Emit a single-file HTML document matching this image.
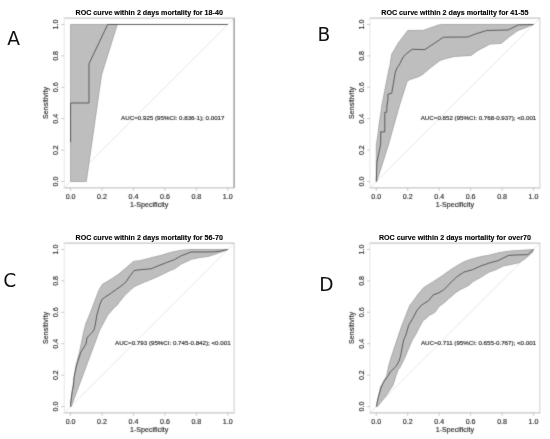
<!DOCTYPE html>
<html><head><meta charset="utf-8"><title>ROC curves</title>
<style>
html,body{margin:0;padding:0;background:#fff;}
svg{display:block;}
.t{font-family:"Liberation Sans",Arial,sans-serif;font-size:7.1px;fill:#2a2a2a;stroke:#2a2a2a;stroke-width:0.15px;text-anchor:middle;}
.ti{font-family:"Liberation Sans",Arial,sans-serif;font-size:7.14px;font-weight:bold;fill:#000;stroke:#000;stroke-width:0.12px;text-anchor:middle;}
.au{font-family:"Liberation Sans",Arial,sans-serif;font-size:6.2px;fill:#1e1e1e;stroke:#1e1e1e;stroke-width:0.15px;text-anchor:middle;}
.lt{font-family:"DejaVu Sans","Liberation Sans",sans-serif;font-size:18.6px;fill:#111;}
</style></head>
<body>
<svg width="550" height="439" viewBox="0 0 550 439">
<defs><filter id="soft" x="0" y="0" width="550" height="439" filterUnits="userSpaceOnUse" color-interpolation-filters="sRGB"><feConvolveMatrix order="3" kernelMatrix="0.02 0.08 0.02 0.08 0.6 0.08 0.02 0.08 0.02" edgeMode="duplicate"/></filter></defs>
<g filter="url(#soft)">
<rect width="550" height="439" fill="#fff"/>
<line x1="64.3" y1="187.8" x2="234.1" y2="18.2" stroke="#e4e4e4" stroke-width="0.9"/>
<polygon points="70.59,181.52 70.59,24.48 117.28,24.48 101.56,74.73 86.31,181.52" fill="#bebebe" stroke="#a0a0a0" stroke-width="0.8" stroke-linejoin="round"/>
<polyline points="70.59,142.26 70.59,103 88.98,103 88.98,63.74 107.69,24.48 227.81,24.48" fill="none" stroke="#555555" stroke-width="0.95" stroke-linejoin="round"/>
<path d="M63.7 18.2H234.7M63.7 187.8H234.7" stroke="#c6c6c6" stroke-width="1.2" fill="none"/>
<path d="M64.3 18.2V187.8" stroke="#ebebeb" stroke-width="1.2" fill="none"/>
<path d="M234.1 18.2V187.8" stroke="#888888" stroke-width="1.2" fill="none"/>
<path d="M70.59 187.8v3 M64.3 181.52h-3 M102.03 187.8v3 M64.3 150.11h-3 M133.48 187.8v3 M64.3 118.7h-3 M164.92 187.8v3 M64.3 87.3h-3 M196.37 187.8v3 M64.3 55.89h-3 M227.81 187.8v3 M64.3 24.48h-3" stroke="#bdbdbd" stroke-width="0.8" fill="none"/>
<text x="70.59" y="198.7" class="t">0.0</text>
<text x="0" y="0" class="t" transform="translate(58 181.52) rotate(-90)">0.0</text>
<text x="102.03" y="198.7" class="t">0.2</text>
<text x="0" y="0" class="t" transform="translate(58 150.11) rotate(-90)">0.2</text>
<text x="133.48" y="198.7" class="t">0.4</text>
<text x="0" y="0" class="t" transform="translate(58 118.7) rotate(-90)">0.4</text>
<text x="164.92" y="198.7" class="t">0.6</text>
<text x="0" y="0" class="t" transform="translate(58 87.3) rotate(-90)">0.6</text>
<text x="196.37" y="198.7" class="t">0.8</text>
<text x="0" y="0" class="t" transform="translate(58 55.89) rotate(-90)">0.8</text>
<text x="227.81" y="198.7" class="t">1.0</text>
<text x="0" y="0" class="t" transform="translate(58 24.48) rotate(-90)">1.0</text>
<text x="149.2" y="207.3" class="t">1-Specificity</text>
<text x="0" y="0" class="t" transform="translate(48.3 103) rotate(-90)">Sensitivity</text>
<text x="172.8" y="120.2" class="au">AUC=0.925 (95%CI: 0.836-1); 0.0017</text>
<line x1="370" y1="187.8" x2="539.8" y2="18.2" stroke="#e4e4e4" stroke-width="0.9"/>
<polygon points="376.29,181.52 376.29,144.93 377.86,135.04 379.28,123.1 380.69,113.99 381.95,105.04 386.19,83.21 388.87,69.71 389.97,65.15 391.7,54.32 398.61,42.54 407.73,30.61 423.61,30.29 438.55,24.95 442.32,24.48 533.51,24.48 524.08,28.25 517.79,30.61 509.3,36.73 501.28,43.33 489.8,44.11 486.97,45.68 477.85,50.39 471.09,55.42 453.96,56.52 444.84,58.87 439.96,60.44 430.37,67.82 422.2,74.73 417.95,76.93 409.78,79.6 407.1,81.49 399.56,105.04 388.39,144.93 376.76,181.52" fill="#bebebe" stroke="#a0a0a0" stroke-width="0.8" stroke-linejoin="round"/>
<polyline points="376.29,181.52 376.92,162.67 378.18,156.39 379.43,150.11 380.69,143.83 380.69,131.89 384.78,131.89 384.78,112.27 386.67,112.27 386.98,105.04 387.92,99.86 387.92,94.21 391.7,93.26 393.43,83.21 395.31,72.38 397.04,67.82 399.09,65.15 403.17,56.99 406.79,53.38 412.29,49.29 424.87,49.61 443.42,37.2 467.63,37.04 475.65,33.9 486.97,30.45 508.04,29.98 518.26,24.95 533.51,24.48" fill="none" stroke="#555555" stroke-width="0.95" stroke-linejoin="round"/>
<path d="M369.4 18.2H540.4M369.4 187.8H540.4" stroke="#c6c6c6" stroke-width="1.2" fill="none"/>
<path d="M370 18.2V187.8" stroke="#ebebeb" stroke-width="1.2" fill="none"/>
<path d="M539.8 18.2V187.8" stroke="#d6d6d6" stroke-width="1.2" fill="none"/>
<path d="M376.29 187.8v3 M370 181.52h-3 M407.73 187.8v3 M370 150.11h-3 M439.18 187.8v3 M370 118.7h-3 M470.62 187.8v3 M370 87.3h-3 M502.07 187.8v3 M370 55.89h-3 M533.51 187.8v3 M370 24.48h-3" stroke="#bdbdbd" stroke-width="0.8" fill="none"/>
<text x="376.29" y="198.7" class="t">0.0</text>
<text x="0" y="0" class="t" transform="translate(363.7 181.52) rotate(-90)">0.0</text>
<text x="407.73" y="198.7" class="t">0.2</text>
<text x="0" y="0" class="t" transform="translate(363.7 150.11) rotate(-90)">0.2</text>
<text x="439.18" y="198.7" class="t">0.4</text>
<text x="0" y="0" class="t" transform="translate(363.7 118.7) rotate(-90)">0.4</text>
<text x="470.62" y="198.7" class="t">0.6</text>
<text x="0" y="0" class="t" transform="translate(363.7 87.3) rotate(-90)">0.6</text>
<text x="502.07" y="198.7" class="t">0.8</text>
<text x="0" y="0" class="t" transform="translate(363.7 55.89) rotate(-90)">0.8</text>
<text x="533.51" y="198.7" class="t">1.0</text>
<text x="0" y="0" class="t" transform="translate(363.7 24.48) rotate(-90)">1.0</text>
<text x="454.9" y="207.3" class="t">1-Specificity</text>
<text x="0" y="0" class="t" transform="translate(354 103) rotate(-90)">Sensitivity</text>
<text x="478.5" y="120.2" class="au">AUC=0.852 (95%CI: 0.768-0.937); &lt;0.001</text>
<line x1="64.3" y1="412.8" x2="234.1" y2="243.2" stroke="#e4e4e4" stroke-width="0.9"/>
<polygon points="70.59,406.52 70.59,402.75 73.1,384.53 75.78,366.32 79.55,351.87 84.11,330.04 86,323.29 90.56,312.3 94.96,300.52 98.73,290.63 102.5,284.19 108.95,280.57 118.07,274.61 126.09,267.85 133.48,261.42 139.77,260.63 143.85,259.69 152.82,257.33 161.94,255.13 170.27,252.47 181.27,250.27 191.02,249.48 227.81,249.48 225.14,250.58 216.49,253.72 207.84,256.55 200.14,257.49 191.49,259.22 181.27,264.09 174.67,268.8 171.05,270.05 161.94,274.61 152.82,278.69 143.85,282.3 134.74,286.39 131.12,289.21 124.67,295.49 119.33,301.93 117.28,305.07 113.83,307.9 107.69,315.12 102.35,325.02 99.67,330.04 71.22,406.52" fill="#bebebe" stroke="#a0a0a0" stroke-width="0.8" stroke-linejoin="round"/>
<polyline points="70.59,406.52 70.59,404.48 72.16,391.76 73.58,385 74.05,377.15 76.25,366.95 77.35,362.86 80.97,351.87 85.84,344.33 87.25,337.42 91.34,333.34 94.02,329.88 95.43,324.07 96.84,315.12 99.67,305.07 101.88,299.58 104.71,297.38 110.21,293.77 116.5,289.21 122.94,284.66 126.09,281.83 129.86,276.02 134.26,270.52 139.77,269.74 151.09,268.8 157.53,266.13 166.65,262.52 174.67,259.53 181.27,255.76 191.02,251.99 202.97,251.99 213.98,251.84 220.89,251.05 227.81,249.48" fill="none" stroke="#555555" stroke-width="0.95" stroke-linejoin="round"/>
<path d="M63.7 243.2H234.7M63.7 412.8H234.7" stroke="#c6c6c6" stroke-width="1.2" fill="none"/>
<path d="M64.3 243.2V412.8" stroke="#ebebeb" stroke-width="1.2" fill="none"/>
<path d="M234.1 243.2V412.8" stroke="#d6d6d6" stroke-width="1.2" fill="none"/>
<path d="M70.59 412.8v3 M64.3 406.52h-3 M102.03 412.8v3 M64.3 375.11h-3 M133.48 412.8v3 M64.3 343.7h-3 M164.92 412.8v3 M64.3 312.3h-3 M196.37 412.8v3 M64.3 280.89h-3 M227.81 412.8v3 M64.3 249.48h-3" stroke="#bdbdbd" stroke-width="0.8" fill="none"/>
<text x="70.59" y="423.7" class="t">0.0</text>
<text x="0" y="0" class="t" transform="translate(58 406.52) rotate(-90)">0.0</text>
<text x="102.03" y="423.7" class="t">0.2</text>
<text x="0" y="0" class="t" transform="translate(58 375.11) rotate(-90)">0.2</text>
<text x="133.48" y="423.7" class="t">0.4</text>
<text x="0" y="0" class="t" transform="translate(58 343.7) rotate(-90)">0.4</text>
<text x="164.92" y="423.7" class="t">0.6</text>
<text x="0" y="0" class="t" transform="translate(58 312.3) rotate(-90)">0.6</text>
<text x="196.37" y="423.7" class="t">0.8</text>
<text x="0" y="0" class="t" transform="translate(58 280.89) rotate(-90)">0.8</text>
<text x="227.81" y="423.7" class="t">1.0</text>
<text x="0" y="0" class="t" transform="translate(58 249.48) rotate(-90)">1.0</text>
<text x="149.2" y="432.3" class="t">1-Specificity</text>
<text x="0" y="0" class="t" transform="translate(48.3 328) rotate(-90)">Sensitivity</text>
<text x="172.8" y="345.2" class="au">AUC=0.793 (95%CI: 0.745-0.842); &lt;0.001</text>
<line x1="370" y1="412.8" x2="539.8" y2="243.2" stroke="#e4e4e4" stroke-width="0.9"/>
<polygon points="376.29,406.52 377.55,400.87 379.28,392.7 380.69,386.26 381.95,384.53 383.84,380.76 386.51,376.21 388.87,365.06 392.01,354.7 395.31,344.96 398.3,335.85 402.07,325.02 407.1,312.3 409.93,305.07 413.08,301.3 417.64,294.87 423.61,287.64 433.2,281.67 442.17,275.86 449.87,270.21 455.37,266.76 463.55,261.89 472.67,258.75 481.79,256.39 487.92,255.45 499.24,252.62 510.71,250.89 522.03,250.27 533.51,249.48 532.25,252.62 525.49,258.43 518.73,262.83 510.71,264.56 503.8,265.81 495.78,269.74 489.8,271.78 486.34,273.67 480.84,277.28 472.67,281.83 469.84,284.66 463.55,288.11 460.87,289.21 455.37,292.82 451.28,296.59 448.14,299.11 445,302.09 439.02,306.49 434.93,312.3 431.32,314.49 429.9,314.65 426.91,317.79 423.14,320.46 419.05,327.84 415.44,335.07 412.29,339.93 404.59,358.15 400.03,367.26 397.99,369.93 396.1,375.43 392.95,385.32 385.72,396.31 377.55,406.52" fill="#bebebe" stroke="#a0a0a0" stroke-width="0.8" stroke-linejoin="round"/>
<polyline points="376.29,406.52 376.6,405.26 378.33,397.1 381.01,387.99 383.36,382.65 385.72,379.04 388.39,375.43 390.44,371.81 395.16,367.26 396.88,365.06 399.09,360.98 400.5,356.27 401.92,349.04 403.65,339.93 405.85,335.07 408.68,325.17 413.08,317.95 416.85,310.57 421.57,305.07 425.03,302.87 428.64,300.68 433.2,294.87 438.55,292.98 442.17,290.78 443.58,290 447.67,285.76 451.28,281.99 456.31,277.28 463.55,272.25 472.67,269.58 480.84,265.97 489.8,262.83 498.14,260.63 508.36,255.45 516.37,254.98 527.69,254.66 533.51,249.48" fill="none" stroke="#555555" stroke-width="0.95" stroke-linejoin="round"/>
<path d="M369.4 243.2H540.4M369.4 412.8H540.4" stroke="#c6c6c6" stroke-width="1.2" fill="none"/>
<path d="M370 243.2V412.8" stroke="#ebebeb" stroke-width="1.2" fill="none"/>
<path d="M539.8 243.2V412.8" stroke="#d6d6d6" stroke-width="1.2" fill="none"/>
<path d="M376.29 412.8v3 M370 406.52h-3 M407.73 412.8v3 M370 375.11h-3 M439.18 412.8v3 M370 343.7h-3 M470.62 412.8v3 M370 312.3h-3 M502.07 412.8v3 M370 280.89h-3 M533.51 412.8v3 M370 249.48h-3" stroke="#bdbdbd" stroke-width="0.8" fill="none"/>
<text x="376.29" y="423.7" class="t">0.0</text>
<text x="0" y="0" class="t" transform="translate(363.7 406.52) rotate(-90)">0.0</text>
<text x="407.73" y="423.7" class="t">0.2</text>
<text x="0" y="0" class="t" transform="translate(363.7 375.11) rotate(-90)">0.2</text>
<text x="439.18" y="423.7" class="t">0.4</text>
<text x="0" y="0" class="t" transform="translate(363.7 343.7) rotate(-90)">0.4</text>
<text x="470.62" y="423.7" class="t">0.6</text>
<text x="0" y="0" class="t" transform="translate(363.7 312.3) rotate(-90)">0.6</text>
<text x="502.07" y="423.7" class="t">0.8</text>
<text x="0" y="0" class="t" transform="translate(363.7 280.89) rotate(-90)">0.8</text>
<text x="533.51" y="423.7" class="t">1.0</text>
<text x="0" y="0" class="t" transform="translate(363.7 249.48) rotate(-90)">1.0</text>
<text x="454.9" y="432.3" class="t">1-Specificity</text>
<text x="0" y="0" class="t" transform="translate(354 328) rotate(-90)">Sensitivity</text>
<text x="478.5" y="345.2" class="au">AUC=0.711 (95%CI: 0.655-0.767); &lt;0.001</text>
</g>
<text x="149.2" y="14.9" class="ti">ROC curve within 2 days mortality for 18-40</text>
<text x="7.15" y="44.8" class="lt">A</text>
<text x="454.9" y="14.9" class="ti">ROC curve within 2 days mortality for 41-55</text>
<text x="317.6" y="41.4" class="lt">B</text>
<text x="149.2" y="239.9" class="ti">ROC curve within 2 days mortality for 56-70</text>
<text x="3.2" y="287.4" class="lt">C</text>
<text x="454.9" y="239.9" class="ti">ROC curve within 2 days mortality for over70</text>
<text x="319.2" y="290.8" class="lt">D</text>
</svg>
</body></html>
